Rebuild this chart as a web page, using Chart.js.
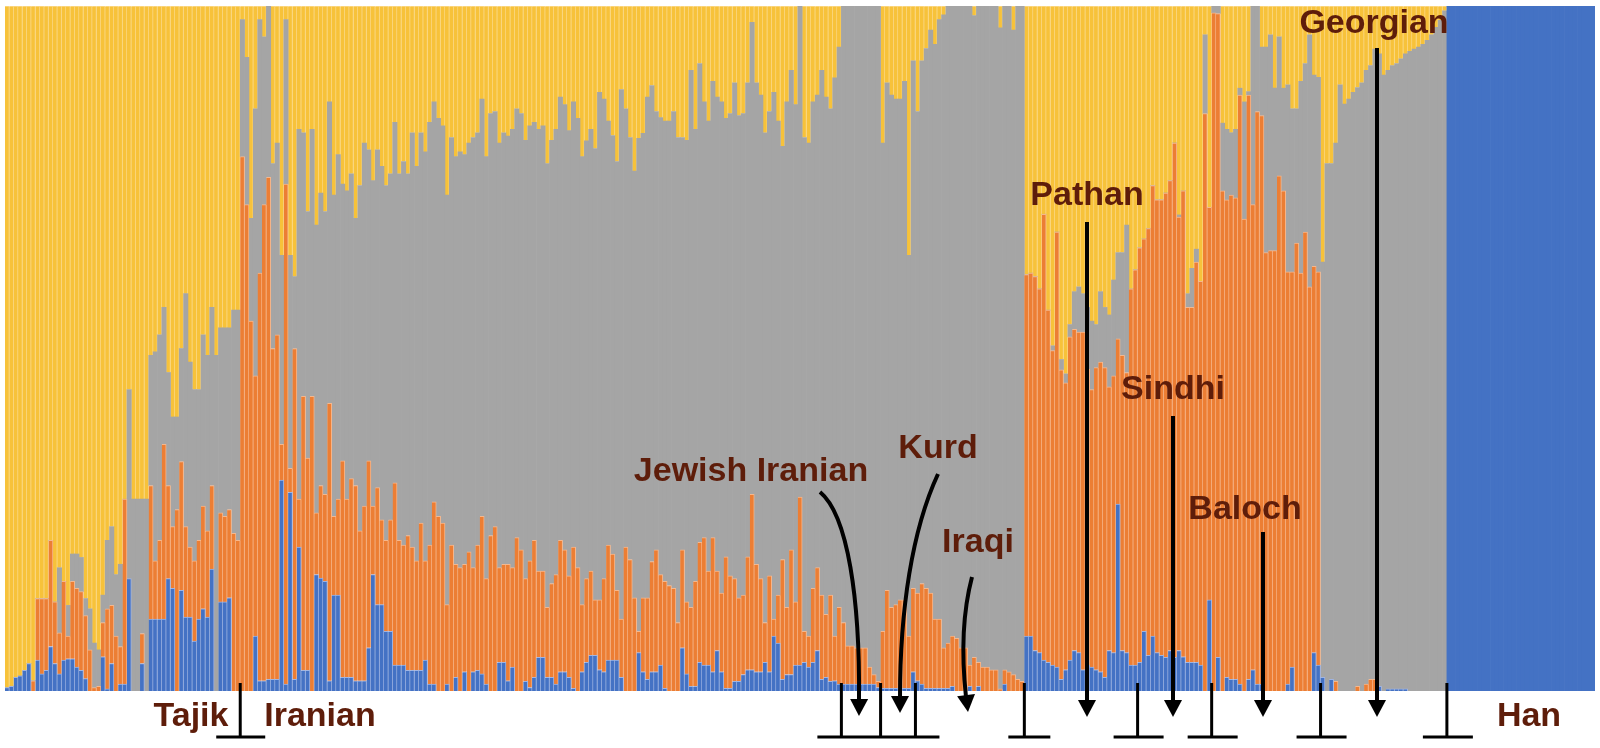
<!DOCTYPE html>
<html lang="en">
<head>
  <meta charset="UTF-8">
  <title>Ancestry components</title>
  <script src="https://cdn.jsdelivr.net/npm/chart.js@4/dist/chart.umd.min.js"></script>
  <style>
    html, body { margin: 0; padding: 0; background: #fff; }
    #wrap { width: 1600px; height: 748px; }
  </style>
</head>
<body>
  <div id="wrap"><canvas id="chart" width="1600" height="748"></canvas></div>
  <script>
    // populations, left to right, and how many samples each one has
    const groupNames = ['Tajik', 'Iranian', 'Jewish Iranian', 'Kurd', 'Iraqi', 'Pathan', 'Sindhi', 'Baloch', 'Georgian', 'Han'];
    const groupSizes = [54, 138, 9, 8, 25, 26, 17, 25, 29, 34];

    // share of each component per sample (%), yellow is what is left over
    const blue = [
      // Tajik
      0.5,0.7,2,2.2,3,4,0,4.5,2.5,3, 6.5,4,2.5,4.5,4.7,4.7,3.5,3,1.8,0, 0,0,5,0.3,4,0,1,1,16.4,0,
      0,4,0,10.5,10.5,10.5,10.5,16.4,15,0, 14.7,10.8,10.8,7.3,10.5,12,10.8,17.8,0,13, 13,13.6,0,0,
      // Iranian
      0,0,0,8,1.5,1.5,1.7,1.7,1.7,30.8, 1,29,1.7,21,3,3,0,17,16.5,16, 1.5,14,14,2,2,2,1.5,1.5,1.5,6.3,
      17,12.6,12.6,8.7,8.7,3.8,3.8,3.8,3,3, 3,3,4.5,1,1,0,0,1,0,2, 0,2.8,0,2.8,3,2.5,1,0,0,4.2,
      4.2,1.5,3.5,0,0,1.4,0.5,2,4.9,4.9, 2,2,1,2.8,2.8,2,0.4,0,2.8,4.2, 5.2,5.2,3.1,2.8,4.5,4.5,4.5,2,0,0,
      0,5.6,2.8,1.7,2.8,2.8,3.8,0.4,0,0, 0,6.3,2.5,0.7,0.7,4.2,3.8,3.8,2.8,5.9, 2.8,0.4,0.4,1.4,1.4,2.4,3.1,3.1,2.8,2.8,
      4.2,2.8,8,7,1.7,2.4,2.4,3.8,3.8,4.2, 3.5,4.2,5.9,1.7,2,1.4,1.5,1,
      // Jewish Iranian
      1,1,1,1,1,1,1,1,0.5,
      // Kurd
      0.4,0.4,0.4,0.4,0.4,0.4,0.4,2.8,
      // Iraqi
      1.5,1,0.4,0.4,0.4,0.4,0.4,0.4,0.7,0, 0,0,0.7,0,0.7,0,0,0,0,0, 1,0,0,0,0,
      // Pathan
      8,8,5.9,5.6,4.5,4.2,3.8,3.5,1.7,3.1, 4.5,5.9,5.6,3.1,3.8,3.5,3.1,2.8,2,5.9, 5.6,27.3,5.9,5.6,3.8,3.8,
      // Sindhi
      4.2,8.7,5.2,8,5.6,5.2,4.9,5.9,4.9,5.9, 5,4.2,4.2,4.2,3.8,0,13.3,
      // Baloch
      0,4.9,0,2,1.7,1.7,1,0,1.7,3.1, 1,1,0,0,0,0,0,1,3.5,0, 0,0,0,5.6,3.8,
      // Georgian
      2,0,1.7,0,0,0,0,0,0,0, 0,0,0,0.7,0,0.3,0.3,0.3,0.3,0.3, 0,0,0,0,0,0,0,0,0,
      // Han
      100,100,100,100,100,100,100,100,100,100, 100,100,100,100,100,100,100,100,100,100,
      100,100,100,100,100,100,100,100,100,100, 100,100,100,100
    ];
    const orange = [
      // Tajik
      0,0,0,0,0,0,1.5,9,11,10.5, 15.5,9,6,11.5,3.3,11.3,11.5,11.5,9.2,6, 0.5,0.7,5,11.7,8.5,8,5.5,27,0,0,
      0,4.4,0,19.5,8.5,11.5,25.5,13.6,9,26.5, 18.8,13.2,10.2,11.7,11.5,15,12.6,12.2,0,13, 12.5,12.9,23,22,
      // Iranian
      78,71,54,38,59.5,69.5,73.3,48.3,50.3,5.2, 73,3.5,48.3,7,40,31,43,9,13.5,12.7, 40.5,11.5,14,31.6,26,29,28.5,21.9,25.5,27.3,
      10,17.1,12.4,13.3,16.3,26.6,18.2,17.5,19.7,18, 16,21.5,14.5,20.3,26.6,25.5,24.5,11.6,21.3,16.5, 18,15.7,20.3,15.2,18.3,23,15.4,22.7,24,13.8,
      14.3,17,14.5,22.4,20.6,15,18.5,20,12.6,12.6, 10.2,13.7,16,19.2,17.8,14.8,20.6,18,9.8,12.2, 12.3,8.1,10.2,13.6,16.8,15.5,10.2,8.5,21,19.2,
      13.6,3.1,10.8,11.9,16.1,17.8,13.2,15.6,15.4,15, 10,14.3,10.5,11.5,15.3,17.5,18.6,13.7,19.6,11.6, 11.5,19.2,16.4,15,12.2,11.6,16.5,25.6,15.7,13.6,
      5.8,14,2.5,7,17.5,9.8,18.2,9.2,24.5,4.5, 4.5,10.8,12.1,12.3,9.2,12.6,6.5,11.2,
      // Jewish Iranian
      9,5.6,5.6,5.3,5.3,5.3,2.5,1.4,0.9,
      // Kurd
      8.3,14.3,11.8,12.2,12.9,12.9,7.6,12.2,
      // Iraqi
      12.8,14.7,14.6,13.9,10.1,10.1,5.9,6.6,7.3,7.7, 6.3,6.3,3.1,4.9,3.5,3.5,3.5,3.1,3.1,0.3, 2.1,2.8,2.4,1.7,1.4,
      // Pathan
      52.8,53,54.6,53.1,65.1,51.4,45.9,63.5,45.2,41.9, 47.2,46.9,46.8,49.3,43.2,40.5,44.1,45.2,45.2,38.5, 40.4,24.1,43.1,40.9,54.9,57.7,
      // Sindhi
      60.5,57.3,62.3,65.8,66.1,66.5,67.8,68.6,75.1,63.3, 68,51.8,51.8,58.4,56,84.3,57.3,
      // Baloch
      99,94,73,69.7,70.7,70.3,86,68.9,85.3,67.9, 83.6,83,64,64.3,64.3,75.2,73,60.2,57.7,65.4, 61,67,59,56.4,57.4,
      // Georgian
      0,0,0,1.4,0,0,0,0,0.7,0, 1,1.7,1.7,0,0,0,0,0,0,0, 0,0,0,0,0,0,0,0,0,
      // Han
      0,0,0,0,0,0,0,0,0,0, 0,0,0,0,0,0,0,0,0,0, 0,0,0,0,0,0,0,0,0,0, 0,0,0,0
    ];
    const gray = [
      // Tajik
      0,0,0,0,0,0,0,0,0,0, 0,0,9.5,0,4.5,4,5,5,2.5,6, 6.5,5.3,4,10,11.5,9,12,0,27.6,28,
      28,19.6,28,19,30.5,30,20,16.5,16,13.5, 16.5,34,27,25,22,25,25.6,26,49,27, 27.5,26.5,32.6,33.6,
      // Iranian
      20,21.5,15,39,37,24.5,25,27,28,27.6, 24,31.1,10.5,54,38.5,36,39,42,42.7,41.3, 44,46.9,50.3,40.4,45,44.5,39,50.4,53,45.4,
      47.5,49.3,51.6,51.8,50.5,52.6,53.5,56,52.8,60.5, 57.6,57,59.7,61.7,58.4,58.1,58,59.8,59.5,59.5, 60.7,59.8,59.7,62.8,60.2,60.9,61.6,61.6,60.6,62,
      63,62.5,64,62.6,63.7,64,63.5,61,64.5,65, 64.8,64.7,65,64.7,65,65,65,65.6,65.4,63.9, 64.5,65.9,74.1,70,61.9,61.1,62.6,77.3,64,61.6,
      62.3,72,67.8,73.1,69.5,64,66.7,67.2,67.8,69.6, 70.8,60.2,67.4,78.4,66,69.9,63.6,65.7,66.6,69.2, 71.7,64,67.5,72.4,70.4,70.3,69.2,68.9,70.3,70.6,
      71.5,67.8,76.9,69.2,60.3,73.8,70,72.6,71.7,72.1, 72,71,69,76.6,75.5,71,81.5,81.8,
      // Jewish Iranian
      90,93.4,93.4,93.7,93.7,93.7,96.5,97.6,98.6,
      // Kurd
      71.3,74.1,74.8,73.8,73.1,75.7,55.6,77,
      // Iraqi
      70.3,76.3,78.8,82.2,83.9,87.5,92.4,93,92,92.3, 93.7,93.7,96.2,93.7,95.8,96.5,96.5,96.9,96.9,96.5, 96.9,97.2,94.1,98.3,98.6,
      // Pathan
      0,0,0,0,0,0,0.7,0,1.5,1.3, 1.8,5.5,6.6,5.6,9,10,6.3,10.3,8.8,10.5, 14,12.6,15,21.5,0,0,
      // Sindhi
      0,0,0,0,0,0,0,0,0,0.3, 0,2,5.7,1.9,0,11.5,0,
      // Baloch
      1,1.1,9.9,10.3,9.1,10,1,17.1,0.5,29, 15.4,10,30,31.5,23.7,20.3,15,27.3,23.8,19.6, 28,24.6,36.8,27.9,28.4,
      // Georgian
      60.6,77,75.3,78.6,88.5,85.7,86.4,87.4,87.4,88.8, 89.6,89.6,92,92.3,89.9,90.3,91,91.3,92,92.7,
      93.4,93.7,94,94.4,95,95.8,96.9,97.9,99.3,
      // Han
      0,0,0,0,0,0,0,0,0,0, 0,0,0,0,0,0,0,0,0,0, 0,0,0,0,0,0,0,0,0,0, 0,0,0,0
    ];

    const yellow = blue.map((b, i) => Math.max(0, 100 - b - orange[i] - gray[i]));
    const labels = blue.map((_, i) => 'S' + (i + 1));
    const hanStart = groupSizes.slice(0, -1).reduce((a, b) => a + b, 0);

    const BLUE = '#4472C4', ORANGE = '#EC7E34', GRAY = '#A5A5A5', YELLOW = '#F7C23A';
    const BROWN = '#5E1D0A';
    const thin = { top: 1, right: 1, bottom: 0, left: 0 };

    // group boundaries in pixels, taken from the x scale
    function boundaryX(x, idx) {
      return (x.getPixelForValue(idx - 1) + x.getPixelForValue(idx)) / 2;
    }

    function arrowHead(ctx, fromX, fromY, tipX, tipY) {
      const a = Math.atan2(tipY - fromY, tipX - fromX);
      const len = 17, half = 9;
      ctx.beginPath();
      ctx.moveTo(tipX, tipY);
      ctx.lineTo(tipX - len * Math.cos(a) + half * Math.sin(a), tipY - len * Math.sin(a) - half * Math.cos(a));
      ctx.lineTo(tipX - len * Math.cos(a) - half * Math.sin(a), tipY - len * Math.sin(a) + half * Math.cos(a));
      ctx.closePath();
      ctx.fill();
    }

    const notes = {
      id: 'notes',
      afterDraw(chart) {
        const ctx = chart.ctx;
        const x = chart.scales.x;
        const bottom = chart.chartArea.bottom;
        ctx.save();
        ctx.strokeStyle = '#000';
        ctx.fillStyle = '#000';

        // group ticks
        const cuts = [];
        let acc = 0;
        groupSizes.slice(0, -1).forEach(n => { acc += n; cuts.push(boundaryX(x, acc)); });
        ctx.lineWidth = 3;
        cuts.forEach(cx => {
          ctx.beginPath();
          ctx.moveTo(cx, bottom - 8);
          ctx.lineTo(cx, bottom + 46);
          ctx.stroke();
        });
        const baseY = bottom + 46;
        const bases = [[cuts[0] - 24, cuts[0] + 25], [cuts[1] - 24, cuts[3] + 24],
          [cuts[4] - 16, cuts[4] + 26], [cuts[5] - 24, cuts[5] + 26], [cuts[6] - 24, cuts[6] + 26],
          [cuts[7] - 24, cuts[7] + 26], [cuts[8] - 24, cuts[8] + 26]];
        bases.forEach(([a, b]) => {
          ctx.beginPath();
          ctx.moveTo(a, baseY);
          ctx.lineTo(b, baseY);
          ctx.stroke();
        });

        // straight arrows
        ctx.lineWidth = 4;
        [[1087, 222], [1173, 416], [1263, 532], [1377, 48]].forEach(([ax, ay]) => {
          ctx.beginPath();
          ctx.moveTo(ax, ay);
          ctx.lineTo(ax, 702);
          ctx.stroke();
          arrowHead(ctx, ax, 690, ax, 717);
        });

        // curved arrows
        const curves = [
          [[820, 492], [848, 515], [860, 600], [859, 700], [859, 716]],
          [[938, 474], [912, 530], [900, 610], [900, 698], [900, 713]],
          [[972, 577], [962, 615], [962, 660], [966, 697], [968, 712]]
        ];
        curves.forEach(([p0, c1, c2, p1, tip]) => {
          ctx.beginPath();
          ctx.moveTo(p0[0], p0[1]);
          ctx.bezierCurveTo(c1[0], c1[1], c2[0], c2[1], p1[0], p1[1]);
          ctx.stroke();
          arrowHead(ctx, c2[0], c2[1], tip[0], tip[1]);
        });

        // population names
        ctx.fillStyle = BROWN;
        ctx.font = 'bold 34px "Liberation Sans", Arial, sans-serif';
        ctx.textAlign = 'center';
        ctx.textBaseline = 'middle';
        const names = [
          ['Tajik', 191, 717], ['Iranian', 320, 717], ['Han', 1529, 717],
          ['Jewish Iranian', 751, 472], ['Kurd', 938, 449], ['Iraqi', 978, 543],
          ['Pathan', 1087, 196], ['Sindhi', 1173, 390], ['Baloch', 1245, 510],
          ['Georgian', 1374, 24]
        ];
        names.forEach(([t, tx, ty]) => ctx.fillText(t, tx, ty));
        ctx.restore();
      }
    };

    new Chart(document.getElementById('chart'), {
      type: 'bar',
      data: {
        labels: labels,
        datasets: [
          {
            label: 'blue', data: blue, backgroundColor: BLUE,
            borderColor: c => c.dataIndex >= hanStart ? BLUE : '#9FB4E2',
            borderWidth: c => c.dataIndex >= hanStart ? 0 : thin
          },
          { label: 'orange', data: orange, backgroundColor: ORANGE, borderColor: '#F6B78C', borderWidth: thin },
          { label: 'gray', data: gray, backgroundColor: GRAY, borderColor: GRAY, borderWidth: 0 },
          { label: 'yellow', data: yellow, backgroundColor: YELLOW, borderColor: '#FBD98A', borderWidth: thin }
        ]
      },
      options: {
        responsive: false,
        animation: false,
        devicePixelRatio: 1,
        layout: { padding: { left: 5, right: 5, top: 6, bottom: 57 } },
        datasets: { bar: { barPercentage: 1, categoryPercentage: 1, borderSkipped: 'start' } },
        plugins: { legend: { display: false }, tooltip: { enabled: false } },
        scales: {
          x: { stacked: true, display: false, grid: { display: false } },
          y: { stacked: true, display: false, min: 0, max: 100 }
        }
      },
      plugins: [notes]
    });
  </script>
</body>
</html>
